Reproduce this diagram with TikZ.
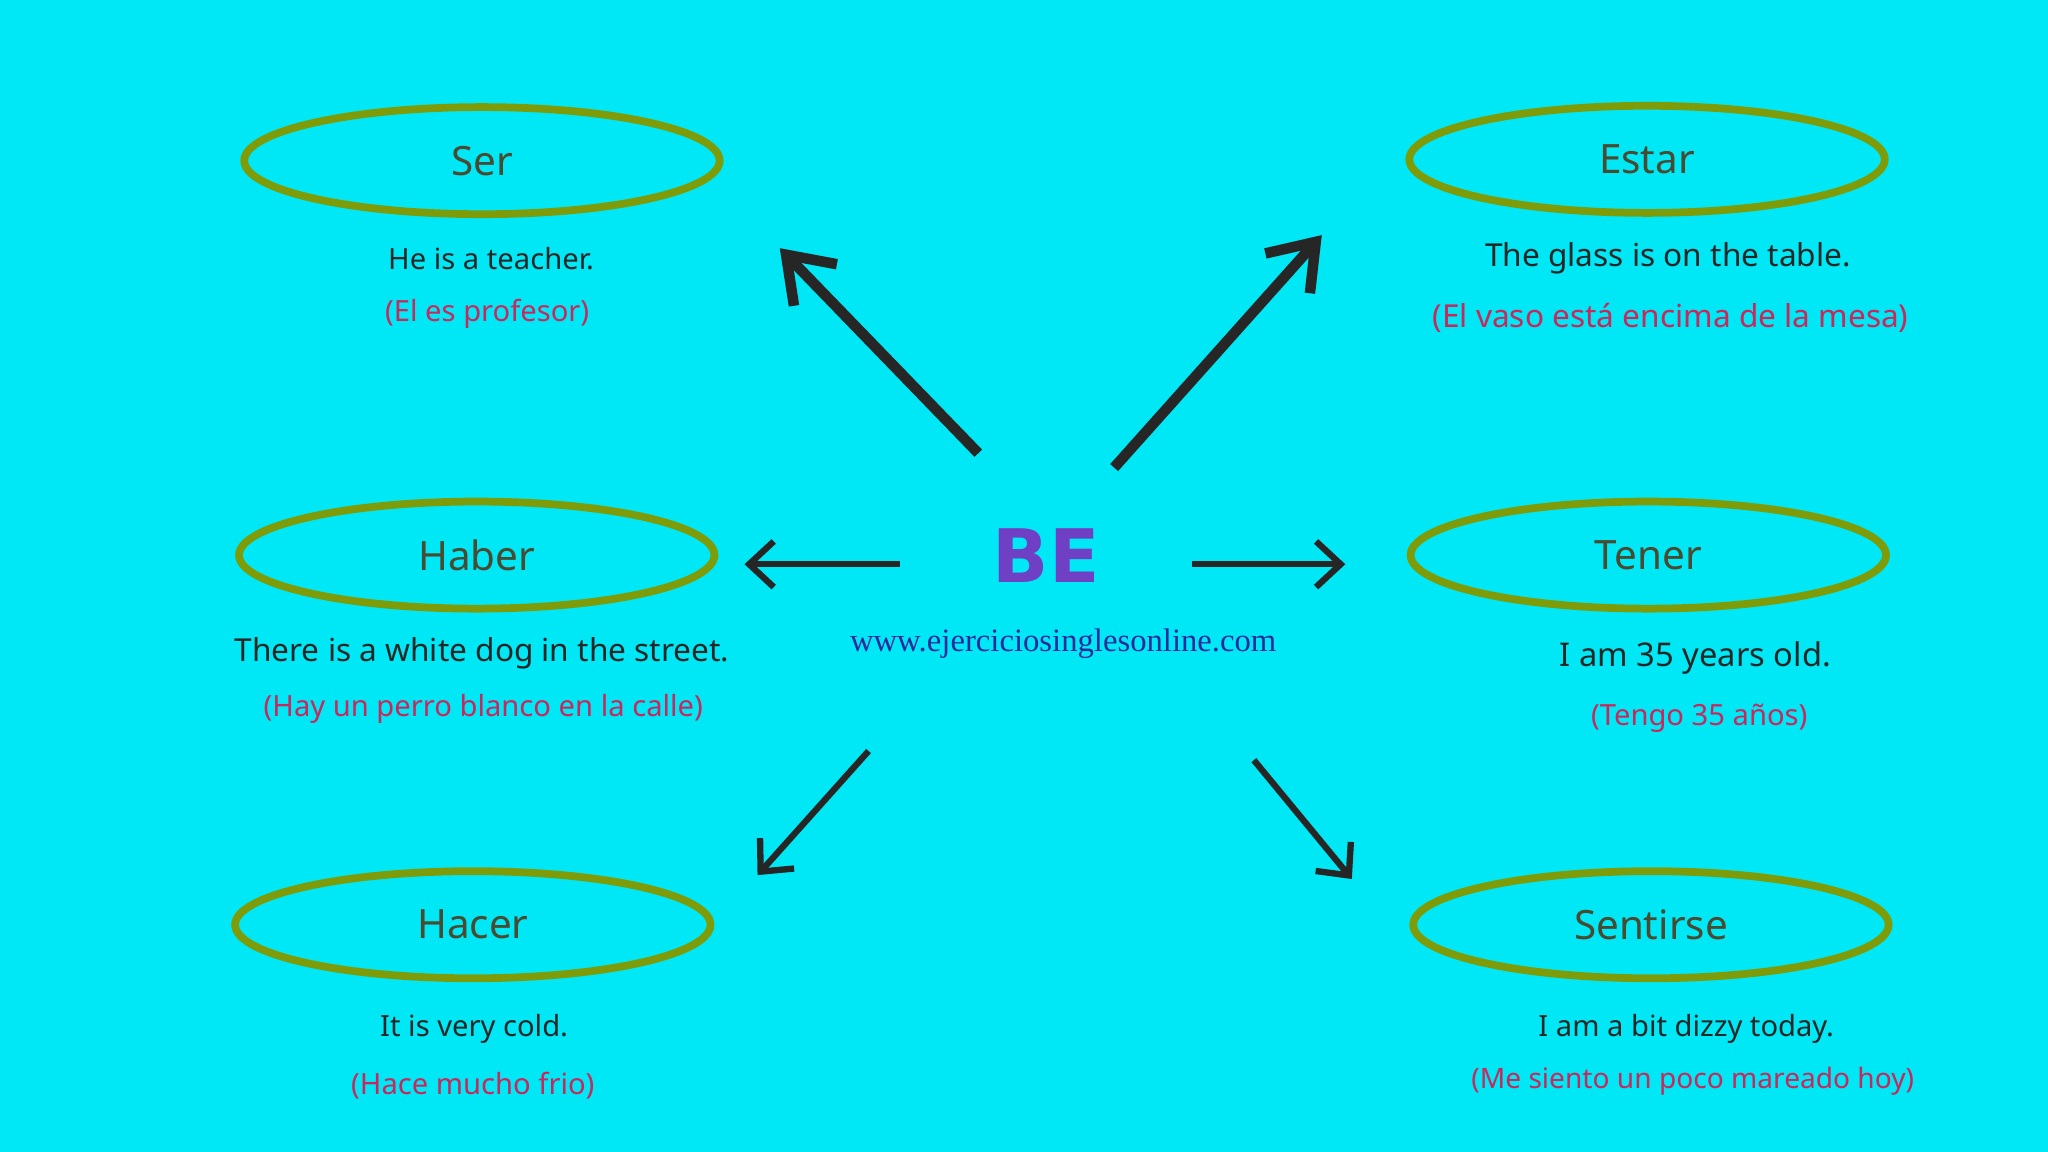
\documentclass[tikz,border=0pt]{standalone}
\usepackage{fontspec}
\setmainfont{Noto Sans}
\newfontfamily\urlfont{Liberation Serif}
\newfontfamily\befont{DejaVu Sans}
\usetikzlibrary{arrows.meta}
\definecolor{bg}{HTML}{00E8F6}
\definecolor{olv}{HTML}{7E9C0A}
\definecolor{lbl}{HTML}{4A4A30}
\definecolor{rd}{HTML}{C8285C}
\definecolor{pur}{HTML}{7040C4}
\definecolor{urlc}{HTML}{2A2A9A}
\begin{document}
\begin{tikzpicture}[x=0.01306cm,y=-0.01306cm,
  en/.style={font=\fontsize{8.3}{10}\selectfont,text=black!85},
  es/.style={font=\fontsize{8.3}{10}\selectfont,text=rd},
  big/.style={draw=black!85,line width=3pt,-{Straight Barb[length=12pt,width=17pt,line width=3pt]}},
  sml/.style={draw=black!85,line width=1.8pt,-{Straight Barb[length=7pt,width=13pt,line width=1.8pt]}}]
\useasboundingbox[fill=bg] (0,0) rectangle (1568,882);
\foreach \n/\t/\x/\y in {ser/Ser/369/123,estar/Estar/1261/122,haber/Haber/365/425,tener/Tener/1262/425,hacer/Hacer/362/708,sentirse/Sentirse/1264/708}{
  \draw[olv,line width=2.2pt] (\x,\y) ellipse [x radius=182,y radius=41];
  \node[text=lbl,font=\fontsize{11.5}{13}\selectfont] (\n) at (\x,\y) {\t};
}
\node[en] (s1) at (376,198) {He is a teacher.};
\node[es] (s2) at (373,240) {(El es profesor)};
\node[en,font=\fontsize{9}{11}\selectfont] (e1) at (1277,198) {The glass is on the table.};
\node[es,font=\fontsize{9}{11}\selectfont] (e2) at (1279,243) {(El vaso está encima de la mesa)};
\node[en,font=\fontsize{9}{11}\selectfont] (h1) at (369,500) {There is a white dog in the street.};
\node[es] (h2) at (370,543) {(Hay un perro blanco en la calle)};
\node[en,font=\fontsize{9.3}{11}\selectfont] (t1) at (1298,504) {I am 35 years old.};
\node[es] (t2) at (1301,550) {(Tengo 35 años)};
\node[en] (c1) at (363,788) {It is very cold.};
\node[es] (c2) at (362,831) {(Hace mucho frio)};
\node[en] (n1) at (1291,788) {I am a bit dizzy today.};
\node[es,font=\fontsize{8}{10}\selectfont] (n2) at (1296,828) {(Me siento un poco mareado hoy)};
\node[text=pur,font=\befont\bfseries\fontsize{21}{24}\selectfont] (be) at (801,425) {BE};
\node[text=urlc,font=\urlfont\fontsize{9.3}{11}\selectfont] (url) at (814,493) {www.ejerciciosinglesonline.com};
\coordinate (a1s) at (749,347); \coordinate (a1e) at (597,190);
\coordinate (a2s) at (853,358); \coordinate (a2e) at (1012,180);
\coordinate (a3s) at (689,432); \coordinate (a3e) at (570,432);
\coordinate (a4s) at (913,432); \coordinate (a4e) at (1030,432);
\coordinate (a5s) at (665,575); \coordinate (a5e) at (580,670);
\coordinate (a6s) at (960,582); \coordinate (a6e) at (1035,673);
\draw[big] (a1s) -- (a1e);
\draw[big] (a2s) -- (a2e);
\draw[sml] (a3s) -- (a3e);
\draw[sml] (a4s) -- (a4e);
\draw[sml] (a5s) -- (a5e);
\draw[sml] (a6s) -- (a6e);
\end{tikzpicture}
\end{document}
